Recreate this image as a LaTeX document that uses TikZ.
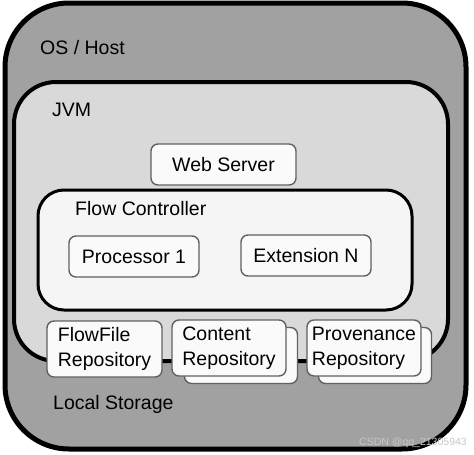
\documentclass[tikz,border=0pt]{standalone}
\usepackage{fontspec}
\setmainfont{Liberation Sans}
\begin{document}
\begin{tikzpicture}[x=1pt,y=-1pt,
  layer/.style={draw=black, inner sep=0pt},
  box/.style={draw=black!62, line width=1.4pt, fill=black!2, rounded corners=7pt, inner sep=0pt,
    font=\fontsize{19.5}{25}\selectfont, align=left},
  lbl/.style={anchor=west, inner sep=0pt, font=\fontsize{19.5}{25}\selectfont}]
\useasboundingbox (0,0) rectangle (474,455);
% OS / Host
\node[layer, line width=5pt, fill=black!37, rounded corners=64pt,
  minimum width=461pt, minimum height=446pt] (os) at (235.5,226) {};
% JVM
\node[layer, line width=4pt, fill=black!15, rounded corners=42pt,
  minimum width=434pt, minimum height=279pt] (jvm) at (231,221.5) {};
% Flow Controller
\node[layer, line width=3pt, fill=black!4, rounded corners=26pt,
  minimum width=374pt, minimum height=120pt] (fc) at (225,250) {};
% Web server, processors
\node[box, minimum width=145pt, minimum height=41pt] (web) at (223.5,164.5) {Web Server};
\node[box, minimum width=130pt, minimum height=41pt] (p1) at (134,256.5) {Processor 1};
\node[box, minimum width=130pt, minimum height=41pt] (ext) at (306,255.5) {Extension N};
% repositories
\node[box, minimum width=113pt, minimum height=56pt] (contentb) at (241,355.5) {};
\node[box, minimum width=113pt, minimum height=56pt] (provb) at (375,355.5) {};
\node[box, minimum width=115pt, minimum height=56pt] (flowfile) at (104.5,349) {FlowFile\\Repository};
\node[box, minimum width=114pt, minimum height=56pt] (content) at (229,348) {Content\\Repository};
\node[box, minimum width=114pt, minimum height=56pt] (prov) at (364,348) {Provenance\\Repository};
% labels
\node[lbl] (oslbl) at (40,48) {OS / Host};
\node[lbl] (jvmlbl) at (52,110) {JVM};
\node[lbl] (fclbl) at (75,209) {Flow Controller};
\node[lbl] (lslbl) at (53,404) {Local Storage};
\node[anchor=east, inner sep=0pt, text=black!22, font=\fontsize{10.5}{12}\selectfont] (wm) at (467,443) {CSDN @qq\_21305943};
\end{tikzpicture}
\end{document}
